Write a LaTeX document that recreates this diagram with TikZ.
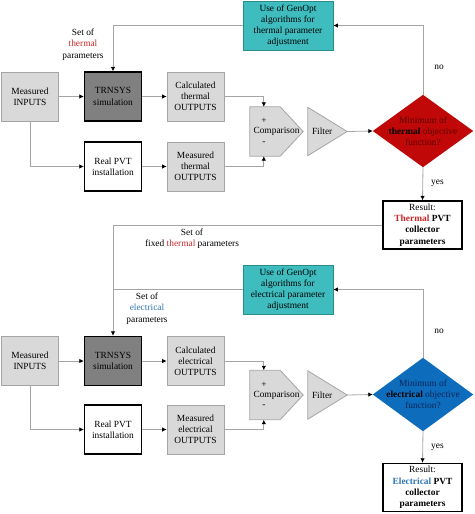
\documentclass[tikz,border=0pt]{standalone}
\usepackage{fontspec}
\setmainfont{Liberation Serif}
\usetikzlibrary{calc,arrows.meta,backgrounds}
\definecolor{lgray}{RGB}{217,217,217}
\definecolor{bgray}{RGB}{165,165,165}
\definecolor{dgray}{RGB}{128,128,128}
\definecolor{teal1}{RGB}{62,188,190}
\definecolor{tealb}{RGB}{40,140,140}
\definecolor{dred}{RGB}{192,8,8}
\definecolor{dredt}{RGB}{95,0,0}
\definecolor{dblue}{RGB}{14,108,188}
\definecolor{dbluet}{RGB}{8,38,88}
\definecolor{tred}{RGB}{200,40,40}
\definecolor{tblue}{RGB}{46,117,182}
\begin{document}
\begin{tikzpicture}[x=1pt,y=-1pt,
  every node/.style={font=\fontsize{9.4}{11.2}\selectfont},
  box/.style={minimum width=57pt, minimum height=49pt, inner sep=0pt, align=center},
  lbox/.style={box, fill=lgray, draw=bgray, line width=0.8pt},
  dbox/.style={box, fill=dgray, draw=black, line width=1.4pt},
  wbox/.style={box, fill=white, draw=black, line width=1.4pt},
  gbox/.style={minimum width=90pt, minimum height=49pt, inner sep=0pt, align=center, fill=teal1, draw=tealb, line width=0.8pt},
  rbox/.style={minimum width=79pt, minimum height=48pt, inner sep=0pt, align=center, fill=white, draw=black, line width=1.4pt},
  ghost/.style={inner sep=0pt, align=center},
  shp/.style={fill=lgray, draw=bgray, line width=0.8pt},
  conn/.style={draw=bgray, line width=0.8pt},
  arr/.style={conn, -{Latex[length=4.5pt,width=4.5pt,color=black]}},
  lbl/.style={inner sep=0pt, align=center}]
\useasboundingbox (0,0) rectangle (474,514);

% ---------- thermal part ----------
\node[lbox] (minp1) at (30,96.5) {Measured\\INPUTS};
\node[dbox] (trn1) at (113,96.5) {TRNSYS\\simulation};
\node[lbox] (calc1) at (195.5,96.5) {Calculated\\thermal\\OUTPUTS};
\node[wbox] (real1) at (113,166.5) {Real PVT\\installation};
\node[lbox] (meas1) at (195.5,166.5) {Measured\\thermal\\OUTPUTS};
\node[gbox] (gen1) at (288,25.5) {Use of GenOpt\\algorithms for\\thermal parameter\\adjustment};

\node[ghost, minimum width=53pt, minimum height=49pt] (comp1) at (276.5,131.5) {Comparison};
\node[lbl] (plus1) at (264,121) {+};
\node[lbl] (minus1) at (264,143) {-};
\node[ghost, minimum height=48pt, text width=31pt, inner xsep=4pt, align=left] (filt1) at (327.5,131.5) {Filter};
\node[ghost, minimum width=100pt, minimum height=72pt, text=dredt] (dia1) at (423,131) {Minimum of\\\textbf{\color{black}thermal} objective\\function?};
\node[rbox] (res1) at (422.5,225) {Result:\\\textbf{\textcolor{tred}{Thermal} PVT}\\\textbf{collector}\\\textbf{parameters}};

\begin{scope}[on background layer]
  \path[shp] (comp1.north west) -- ($(comp1.north east)+(-23,0)$) -- (comp1.east)
     -- ($(comp1.south east)+(-23,0)$) -- (comp1.south west) -- cycle;
  \path[shp] (filt1.north west) -- (filt1.east) -- (filt1.south west) -- cycle;
  \fill[dred] (dia1.north) -- (dia1.east) -- (dia1.south) -- (dia1.west) -- cycle;
\end{scope}

\node[lbl] (set1) at (83,44.5) {Set of\\\textcolor{tred}{thermal}\\parameters};

\draw[arr] (minp1.east) -- (trn1.west);
\draw[arr] (trn1.east) -- (calc1.west);
\draw[arr] (minp1.south) |- (real1.west);
\draw[arr] (real1.east) -- (meas1.west);
\draw[arr] (calc1.east) -| ($(comp1.north west)+(14,0)$);
\draw[arr] (meas1.east) -| ($(comp1.south west)+(14,0)$);
\draw[arr] (filt1.east) -- (dia1.west);
\draw[arr] (dia1.south) -- node[lbl, right=8pt, pos=0.5] (yes1) {yes} (res1.north);
\draw[arr] (dia1.north) |- (gen1.east);
\node[lbl] (no1) at (439,67) {no};
\draw[arr] (gen1.west) -| (trn1.north);

% ---------- electrical part ----------
\node[lbox] (minp2) at (30,361) {Measured\\INPUTS};
\node[dbox] (trn2) at (113,361) {TRNSYS\\simulation};
\node[lbox] (calc2) at (195.5,361) {Calculated\\electrical\\OUTPUTS};
\node[wbox] (real2) at (113,429.5) {Real PVT\\installation};
\node[lbox] (meas2) at (195.5,429.5) {Measured\\electrical\\OUTPUTS};
\node[gbox] (gen2) at (288,289.5) {Use of GenOpt\\algorithms for\\electrical parameter\\adjustment};

\node[ghost, minimum width=53pt, minimum height=49pt] (comp2) at (276.5,395) {Comparison};
\node[lbl] (plus2) at (264,384.5) {+};
\node[lbl] (minus2) at (264,406.5) {-};
\node[ghost, minimum height=48pt, text width=31pt, inner xsep=4pt, align=left] (filt2) at (327.5,395) {Filter};
\node[ghost, minimum width=100pt, minimum height=73pt, text=dbluet] (dia2) at (423,394.5) {Minimum of\\\textbf{\color{black}electrical} objective\\function?};
\node[rbox] (res2) at (422.5,487.5) {Result:\\\textbf{\textcolor{tblue}{Electrical} PVT}\\\textbf{collector}\\\textbf{parameters}};

\begin{scope}[on background layer]
  \path[shp] (comp2.north west) -- ($(comp2.north east)+(-23,0)$) -- (comp2.east)
     -- ($(comp2.south east)+(-23,0)$) -- (comp2.south west) -- cycle;
  \path[shp] (filt2.north west) -- (filt2.east) -- (filt2.south west) -- cycle;
  \fill[dblue] (dia2.north) -- (dia2.east) -- (dia2.south) -- (dia2.west) -- cycle;
\end{scope}

\node[lbl] (set2) at (192,239) {Set of\\fixed \textcolor{tred}{thermal} parameters};
\node[lbl] (set3) at (147,308.5) {Set of\\\textcolor{tblue}{electrical}\\parameters};

\draw[arr] (minp2.east) -- (trn2.west);
\draw[arr] (trn2.east) -- (calc2.west);
\draw[arr] (minp2.south) |- (real2.west);
\draw[arr] (real2.east) -- (meas2.west);
\draw[arr] (calc2.east) -| ($(comp2.north west)+(14,0)$);
\draw[arr] (meas2.east) -| ($(comp2.south west)+(14,0)$);
\draw[arr] (filt2.east) -- (dia2.west);
\draw[arr] (dia2.south) -- node[lbl, right=8pt, pos=0.5] (yes2) {yes} (res2.north);
\draw[arr] (dia2.north) |- (gen2.east);
\node[lbl] (no2) at (439,331) {no};
\draw[arr] (res1.west) -| (trn2.north);
\draw[conn] (gen2.west) -- (gen2.west -| trn2.north);
\end{tikzpicture}
\end{document}
